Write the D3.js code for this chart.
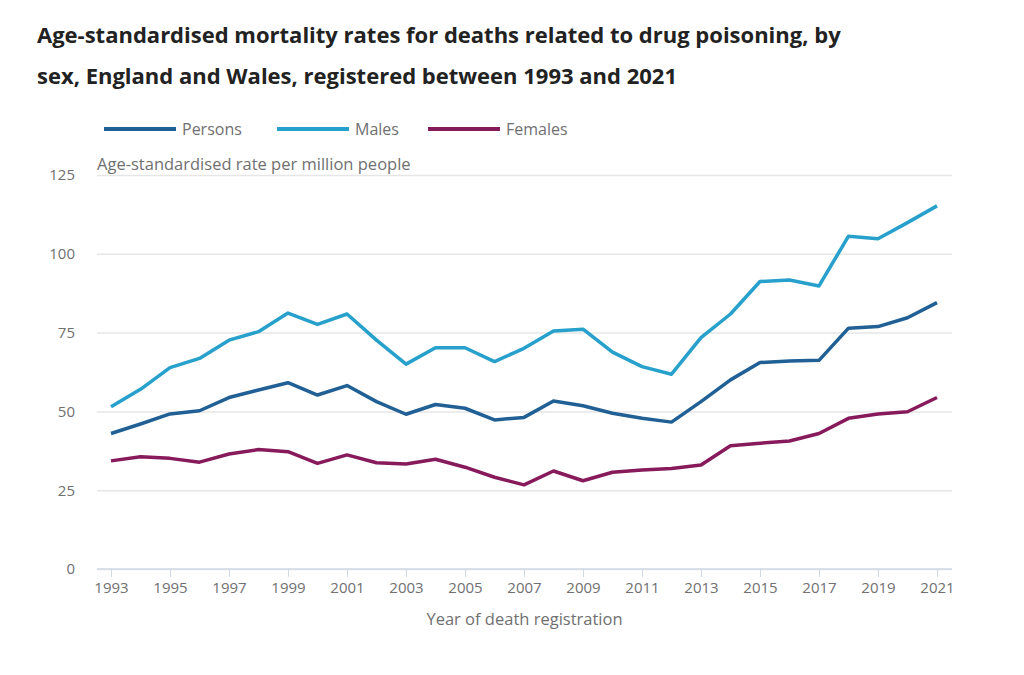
<!DOCTYPE html>
<html>
<head>
<meta charset="utf-8">
<script src="https://cdn.jsdelivr.net/npm/d3@7"></script>
<style>
  body { margin: 0; background: #fff; }
  svg text { font-family: 'Open Sans', sans-serif; }
</style>
</head>
<body>
<div id="chart"></div>
<script>
// ── Data ────────────────────────────────────────────────────
const years = d3.range(1993, 2022);

const persons = [43.0, 46.0, 49.2, 50.2, 54.4, 56.8, 59.1, 55.2, 58.2, 53.1,
  49.1, 52.2, 51.0, 47.3, 48.1, 53.3, 51.8, 49.4, 47.8, 46.6,
  53.1, 60.0, 65.5, 66.0, 66.2, 76.4, 76.9, 79.7, 84.5];

const males = [51.5, 57.0, 63.9, 66.8, 72.6, 75.3, 81.2, 77.6, 80.9, 72.6,
  65.0, 70.2, 70.2, 65.8, 70.0, 75.5, 76.1, 68.8, 64.2, 61.8,
  73.4, 80.9, 91.2, 91.7, 89.8, 105.6, 104.8, 109.9, 115.2];

const females = [34.3, 35.6, 35.1, 33.9, 36.5, 37.9, 37.2, 33.5, 36.2, 33.7,
  33.3, 34.8, 32.3, 29.1, 26.7, 31.1, 28.0, 30.7, 31.4, 31.9,
  33.0, 39.1, 39.9, 40.6, 43.0, 47.8, 49.2, 49.9, 54.4];

const seriesNames = ['Persons', 'Males', 'Females'];
const yTicks = [0, 25, 50, 75, 100, 125];
const xTicks = d3.range(1993, 2022, 2);

const colors = { Persons: '#206095', Males: '#27a0cc', Females: '#871a5b' };

const series = [
  { name: 'Persons', values: persons },
  { name: 'Males',   values: males },
  { name: 'Females', values: females }
];

// ── Layout ──────────────────────────────────────────────────
const width = 1024, height = 675;
const margin = { top: 175, right: 72, bottom: 106, left: 97 };
const innerW = width - margin.left - margin.right;
const innerH = height - margin.top - margin.bottom;

const svg = d3.select('#chart').append('svg')
  .attr('width', width).attr('height', height);

// ── Title ───────────────────────────────────────────────────
const title = svg.append('text')
  .attr('x', 37).attr('y', 43)
  .attr('fill', '#222222')
  .attr('font-size', '22px')
  .attr('font-weight', 'bold');
title.append('tspan').attr('x', 37).attr('dy', 0)
  .text('Age-standardised mortality rates for deaths related to drug poisoning, by');
title.append('tspan').attr('x', 37).attr('dy', 41)
  .text('sex, England and Wales, registered between 1993 and 2021');

// ── Legend ──────────────────────────────────────────────────
const legendX = [104, 277, 428];
const legend = svg.append('g');
seriesNames.forEach((name, i) => {
  legend.append('line')
    .attr('x1', legendX[i]).attr('x2', legendX[i] + 72)
    .attr('y1', 129).attr('y2', 129)
    .attr('stroke', colors[name])
    .attr('stroke-width', 4);
  legend.append('text')
    .attr('x', legendX[i] + 78).attr('y', 135)
    .attr('fill', '#707071')
    .attr('font-size', '16px')
    .text(name);
});

const g = svg.append('g')
  .attr('transform', `translate(${margin.left},${margin.top})`);

// ── Scales ──────────────────────────────────────────────────
const x = d3.scaleLinear()
  .domain([1993, 2021])
  .range([14, 840]);

const y = d3.scaleLinear()
  .domain([0, 125])
  .range([innerH, 0]);

// ── Gridlines ───────────────────────────────────────────────
g.append('g')
  .attr('class', 'grid')
  .call(d3.axisLeft(y).tickValues(yTicks).tickSize(-innerW).tickFormat(''))
  .call(s => s.select('.domain').remove())
  .selectAll('line')
  .attr('stroke', '#e6e6e6')
  .attr('stroke-width', 1.5);

// ── Y axis labels ───────────────────────────────────────────
g.append('g')
  .call(d3.axisLeft(y).tickValues(yTicks).tickSize(0).tickPadding(22))
  .call(s => s.select('.domain').remove())
  .selectAll('text')
  .attr('fill', '#707071')
  .attr('font-size', '15px')
  .attr('font-family', "'Open Sans', sans-serif");

// ── X axis ──────────────────────────────────────────────────
const xAxis = g.append('g')
  .attr('transform', `translate(0,${innerH})`)
  .call(d3.axisBottom(x).tickValues(xTicks).tickFormat(d3.format('d'))
    .tickSize(8).tickSizeOuter(0).tickPadding(5));
xAxis.select('.domain')
  .attr('d', `M0,0H${innerW}`)
  .attr('stroke', '#d0d8e6')
  .attr('stroke-width', 1.5);
xAxis.selectAll('.tick line').attr('stroke', '#d0d8e6');
xAxis.selectAll('text')
  .attr('fill', '#707071')
  .attr('font-size', '15px')
  .attr('font-family', "'Open Sans', sans-serif");

// ── Axis titles ─────────────────────────────────────────────
g.append('text')
  .attr('x', 0).attr('y', -5)
  .attr('fill', '#707071')
  .attr('font-size', '16.5px')
  .text('Age-standardised rate per million people');

g.append('text')
  .attr('x', innerW / 2).attr('y', innerH + 56)
  .attr('text-anchor', 'middle')
  .attr('fill', '#707071')
  .attr('font-size', '16.5px')
  .text('Year of death registration');

// ── Lines ───────────────────────────────────────────────────
const line = d3.line()
  .x((d, i) => x(years[i]))
  .y(d => y(d));

g.selectAll('.series')
  .data(series)
  .join('path')
  .attr('class', 'series')
  .attr('fill', 'none')
  .attr('stroke', d => colors[d.name])
  .attr('stroke-width', 3.5)
  .attr('stroke-linejoin', 'round')
  .attr('d', d => line(d.values));
</script>
</body>
</html>
